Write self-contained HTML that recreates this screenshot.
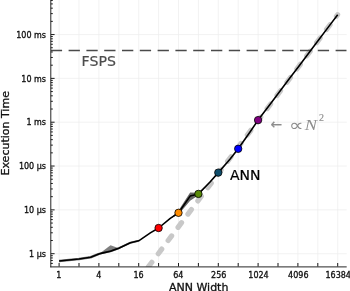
<!DOCTYPE html><html><head><meta charset="utf-8"><title>ANN execution time</title>
<style>html,body{margin:0;padding:0;background:#fff}svg{display:block}text{font-family:"DejaVu Sans","Liberation Sans",sans-serif}</style></head><body>
<svg width="350" height="291" viewBox="0 0 350 291">
<rect width="350" height="291" fill="#fff"/>
<path d="M59.10 0V266.5M79.00 0V266.5M98.90 0V266.5M118.80 0V266.5M138.70 0V266.5M158.60 0V266.5M178.50 0V266.5M198.40 0V266.5M218.30 0V266.5M238.20 0V266.5M258.10 0V266.5M278.00 0V266.5M297.90 0V266.5M317.80 0V266.5M337.70 0V266.5M50.8 253.70H346.7M50.8 209.87H346.7M50.8 166.04H346.7M50.8 122.21H346.7M50.8 78.38H346.7M50.8 34.55H346.7" stroke="#ededed" stroke-width="0.7" fill="none"/>
<clipPath id="c"><rect x="50.8" y="0" width="295.9" height="267.0"/></clipPath>
<g clip-path="url(#c)">
<path d="M337.6 14.7L140 278.04" stroke="#c8c8c8" stroke-width="5.2" stroke-linecap="round" stroke-dasharray="5.8 10.695" stroke-dashoffset="3.900" fill="none"/>
<path d="M98.90 253.90L110.54 245.20L118.80 248.20L110.54 251.20Z" fill="#000" fill-opacity="0.5"/>
<path d="M170.24 218.40L178.50 210.60L190.14 192.40L198.40 192.80L210.04 182.00L198.40 195.20L190.14 200.80L178.50 214.60Z" fill="#000" fill-opacity="0.6"/>
<path d="M50.8 50.5H346.7" stroke="#4a4a4a" stroke-width="1.3" stroke-dasharray="11.3 6.5" fill="none"/>
<path d="M59.10 261.00L79.00 259.00L90.64 257.30L98.90 253.90" stroke="#000" stroke-opacity="0.5" stroke-width="2.6" stroke-linejoin="round" fill="none"/>
<path d="M98.90 253.90L110.54 251.20L118.80 248.20L130.44 242.70L138.70 240.80" stroke="#000" stroke-opacity="0.5" stroke-width="2.0" stroke-linejoin="round" fill="none"/>
<path d="M59.10 261.00L79.00 259.00L90.64 257.30L98.90 253.90L110.54 251.20L118.80 248.20L130.44 242.70L138.70 240.80L150.34 232.90L158.60 228.00L170.24 218.40L178.50 212.80L190.14 196.10L198.40 193.90L210.04 182.00L218.30 172.60L229.94 159.30L238.20 148.80L249.84 132.30L258.10 120.10L269.74 104.69L278.00 93.75L289.64 78.34L297.90 67.40L309.54 51.99L317.80 41.05L329.44 25.64L337.70 14.70" stroke="#000" stroke-width="1.6" stroke-linejoin="round" fill="none"/>
<circle cx="158.60" cy="228.00" r="3.7" fill="#ff0000" stroke="#000" stroke-width="0.8"/>
<circle cx="178.50" cy="212.80" r="3.7" fill="#ff8c00" stroke="#000" stroke-width="0.8"/>
<circle cx="198.40" cy="193.90" r="3.7" fill="#5a8a0a" stroke="#000" stroke-width="0.8"/>
<circle cx="218.30" cy="172.60" r="3.7" fill="#0f4d6b" stroke="#000" stroke-width="0.8"/>
<circle cx="238.20" cy="148.80" r="3.7" fill="#0000ff" stroke="#000" stroke-width="0.8"/>
<circle cx="258.10" cy="120.10" r="3.7" fill="#800080" stroke="#000" stroke-width="0.8"/>
</g>
<path d="M50.8 0V267.3M50.3 266.9H346.7" stroke="#262626" stroke-width="1" fill="none"/>
<path d="M59.10 266.5v-3.5M79.00 266.5v-3.5M98.90 266.5v-3.5M118.80 266.5v-3.5M138.70 266.5v-3.5M158.60 266.5v-3.5M178.50 266.5v-3.5M198.40 266.5v-3.5M218.30 266.5v-3.5M238.20 266.5v-3.5M258.10 266.5v-3.5M278.00 266.5v-3.5M297.90 266.5v-3.5M317.80 266.5v-3.5M337.70 266.5v-3.5M50.8 263.42h2.0M50.8 260.49h2.0M50.8 257.95h2.0M50.8 255.71h2.0M50.8 253.70h3.8M50.8 240.51h2.0M50.8 232.79h2.0M50.8 227.31h2.0M50.8 223.06h2.0M50.8 219.59h2.0M50.8 216.66h2.0M50.8 214.12h2.0M50.8 211.88h2.0M50.8 209.87h3.8M50.8 196.68h2.0M50.8 188.96h2.0M50.8 183.48h2.0M50.8 179.23h2.0M50.8 175.76h2.0M50.8 172.83h2.0M50.8 170.29h2.0M50.8 168.05h2.0M50.8 166.04h3.8M50.8 152.85h2.0M50.8 145.13h2.0M50.8 139.65h2.0M50.8 135.40h2.0M50.8 131.93h2.0M50.8 129.00h2.0M50.8 126.46h2.0M50.8 124.22h2.0M50.8 122.21h3.8M50.8 109.02h2.0M50.8 101.30h2.0M50.8 95.82h2.0M50.8 91.57h2.0M50.8 88.10h2.0M50.8 85.17h2.0M50.8 82.63h2.0M50.8 80.39h2.0M50.8 78.38h3.8M50.8 65.19h2.0M50.8 57.47h2.0M50.8 51.99h2.0M50.8 47.74h2.0M50.8 44.27h2.0M50.8 41.34h2.0M50.8 38.80h2.0M50.8 36.56h2.0M50.8 34.55h3.8M50.8 21.36h2.0M50.8 13.64h2.0M50.8 8.16h2.0M50.8 3.91h2.0M50.8 0.44h2.0" stroke="#1a1a1a" stroke-width="1" fill="none"/>
<g font-size="8" fill="#111" stroke="#111" stroke-width="0.3">
<text x="58.90" y="278.3" text-anchor="middle">1</text>
<text x="98.70" y="278.3" text-anchor="middle">4</text>
<text x="138.50" y="278.3" text-anchor="middle">16</text>
<text x="178.30" y="278.3" text-anchor="middle">64</text>
<text x="218.70" y="278.3" text-anchor="middle">256</text>
<text x="258.50" y="278.3" text-anchor="middle">1024</text>
<text x="298.30" y="278.3" text-anchor="middle">4096</text>
<text x="338.20" y="278.3" text-anchor="middle">16384</text>
<text x="46" y="256.90" text-anchor="end">1 µs</text>
<text x="46" y="213.07" text-anchor="end">10 µs</text>
<text x="46" y="169.24" text-anchor="end">100 µs</text>
<text x="46" y="125.41" text-anchor="end">1 ms</text>
<text x="46" y="81.58" text-anchor="end">10 ms</text>
<text x="46" y="37.75" text-anchor="end">100 ms</text>
</g>
<text x="198.7" y="290.8" font-size="11" text-anchor="middle" fill="#111" stroke="#111" stroke-width="0.3">ANN Width</text>
<text transform="translate(9.3 133.3) rotate(-90)" font-size="11" text-anchor="middle" fill="#111" stroke="#111" stroke-width="0.3">Execution Time</text>
<text x="81.6" y="66.3" font-size="14.1" fill="#4d4d4d" stroke="#4d4d4d" stroke-width="0.2">FSPS</text>
<text x="230" y="180.4" font-size="14" fill="#000" stroke="#000" stroke-width="0.2">ANN</text>
<g fill="#8c8c8c" stroke="#8c8c8c" stroke-width="0.15"><text x="270.6" y="129.3" font-size="14">←</text><text transform="translate(288.6 131.4) scale(1.2 1)" font-size="17.5" font-weight="200" stroke="none">∝</text><text transform="translate(304.8 130) scale(1.2 1)" font-size="15.3" stroke="none" font-style="italic" style="font-family:'Liberation Serif',serif">N</text><text x="319.0" y="121.4" font-size="10" style="font-family:'Liberation Serif',serif">2</text></g>
</svg></body></html>
